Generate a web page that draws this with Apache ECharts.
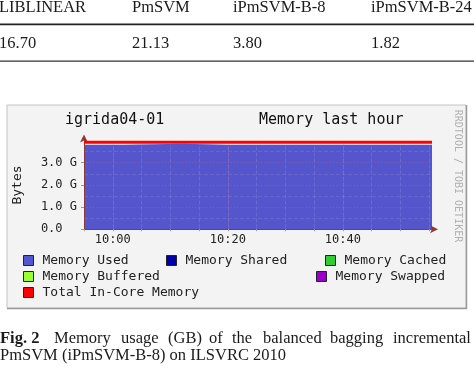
<!DOCTYPE html>
<html>
<head>
<meta charset="utf-8">
<script src="https://cdn.jsdelivr.net/npm/echarts@6/dist/echarts.min.js"></script>
<style>
html,body{margin:0;padding:0;background:#fff;}
#c{width:474px;height:369px;}
</style>
</head>
<body>
<div id="c"></div>
<script>
// ---- table above the figure ----
const tableHeaders = ['LIBLINEAR', 'PmSVM', 'iPmSVM-B-8', 'iPmSVM-B-24'];
const tableValues = ['16.70', '21.13', '3.80', '1.82'];

// ---- RRD chart data (minutes since midnight; values in GB) ----
const times     = [595, 602, 602.3, 612, 612.3, 620, 630, 640, 650, 655.5];
const memUsed   = [3.81, 3.81, 3.85, 3.85, 3.81, 3.81, 3.81, 3.81, 3.81, 3.81];
const memShared = [0, 0, 0, 0, 0, 0, 0, 0, 0, 0];
const memCached = [0.03, 0.03, 0, 0, 0.05, 0.05, 0.05, 0.05, 0.05, 0.05];
const memBuffered=[0, 0, 0, 0, 0, 0, 0, 0, 0, 0];
const memSwapped= [0, 0, 0, 0, 0, 0, 0, 0, 0, 0];
const memTotal  = [3.92, 3.92, 3.92, 3.92, 3.92, 3.92, 3.92, 3.92, 3.92, 3.92];
const yTicks = [0, 1, 2, 3];
const majorTimes = [600, 620, 640];

const hostTitle = 'igrida04-01';
const graphTitle = 'Memory last hour';
const yName = 'Bytes';
const sideText = 'RRDTOOL / TOBI OETIKER';
const captionBold = 'Fig. 2';
const captionLine1 = ['Memory', 'usage', '(GB)', 'of', 'the', 'balanced', 'bagging', 'incremental'];
const captionLine2 = 'PmSVM (iPmSVM-B-8) on ILSVRC 2010';

const names = ['Memory Used', 'Memory Shared', 'Memory Cached', 'Memory Buffered', 'Memory Swapped', 'Total In-Core Memory'];
const colors = ['#5555cc', '#0000aa', '#33cc33', '#99ff33', '#9900cc', '#ff0000'];
const stackVals = [memUsed, memShared, memCached, memBuffered, memSwapped];

const mono = 'DejaVu Sans Mono';
const serif = 'Liberation Serif';

const chart = echarts.init(document.getElementById('c'), null, {renderer: 'canvas'});

function pairs(arr) { return times.map((t, i) => [t, arr[i]]); }

const series = stackVals.map((arr, i) => ({
  name: names[i], type: 'line', stack: 'mem',
  data: pairs(arr), symbol: 'none', z: -1,
  color: colors[i],
  lineStyle: {width: 0, color: colors[i]},
  areaStyle: {color: colors[i], opacity: 1},
  itemStyle: {color: colors[i]}
}));
series.push({
  name: names[5], type: 'line', data: pairs(memTotal), symbol: 'none', z: 5,
  color: colors[5], clip: false,
  lineStyle: {width: 3, color: colors[5]}, itemStyle: {color: colors[5]}
});
// major time grid lines (rrdtool style)
series.push({
  type: 'line', data: [], z: 1, silent: true,
  markLine: {
    silent: true, symbol: ['none', 'none'], label: {show: false},
    lineStyle: {color: 'rgba(255,110,110,0.35)', type: [1, 2], width: 1},
    data: majorTimes.map(t => ({xAxis: t}))
  }
});

// legend positions (one legend per item)
const legendPos = [[23, 254], [166, 254], [325, 254], [23, 270], [316, 270], [23, 286]];
const legends = names.map((n, i) => ({
  data: [n], left: legendPos[i][0], top: legendPos[i][1], padding: 0,
  icon: 'rect', itemWidth: 10, itemHeight: 10, itemGap: 0, selectedMode: false,
  itemStyle: {borderColor: '#222', borderWidth: 1, color: colors[i]},
  textStyle: {fontFamily: mono, fontSize: 13, color: '#222', padding: [0, 0, 0, 4]}
}));

const tableX = [-1, 132, 233, 371];
const serifFont = '16.5px "' + serif + '"';
const graphics = [];
// figure box
graphics.push({type: 'rect', z: -100, shape: {x: 7, y: 105, width: 459, height: 203},
  style: {fill: '#f3f3f3', stroke: '#c4c4c4', lineWidth: 1}});
graphics.push({type: 'polyline', z: -99, shape: {points: [[466.5, 105], [466.5, 308.5], [7, 308.5]]},
  style: {stroke: '#9a9a9a', lineWidth: 1.5, fill: null}});
// table (y = baseline - 5.6, vertically middle-aligned)
tableHeaders.forEach((h, i) => graphics.push({type: 'text', x: tableX[i], y: 7.4,
  style: {text: h, font: serifFont, fill: '#1a1a1a', verticalAlign: 'middle'}}));
tableValues.forEach((h, i) => graphics.push({type: 'text', x: tableX[i], y: 43.4,
  style: {text: h, font: serifFont, fill: '#1a1a1a', verticalAlign: 'middle'}}));
graphics.push({type: 'rect', shape: {x: 0, y: 23.5, width: 474, height: 1.8}, style: {fill: '#222'}});
graphics.push({type: 'rect', shape: {x: 0, y: 60.4, width: 474, height: 1.3}, style: {fill: '#333'}});
// titles
graphics.push({type: 'text', x: 65, y: 120, style: {text: hostTitle, font: '15px "' + mono + '"', fill: '#111', verticalAlign: 'middle'}});
graphics.push({type: 'text', x: 259, y: 120, style: {text: graphTitle, font: '15px "' + mono + '"', fill: '#111', verticalAlign: 'middle'}});
graphics.push({type: 'text', x: 18, y: 185, rotation: Math.PI / 2,
  style: {text: yName, font: '13px "' + mono + '"', fill: '#222', align: 'center', verticalAlign: 'middle'}});
graphics.push({type: 'text', x: 458, y: 176, rotation: -Math.PI / 2,
  style: {text: sideText, font: '10px "' + mono + '"', fill: '#b0b0b0', align: 'center', verticalAlign: 'middle'}});
// caption
const capX = [54, 121, 168, 209, 232, 263, 330, 393];
graphics.push({type: 'text', x: 0, y: 338.4, style: {text: captionBold, font: 'bold ' + serifFont, fill: '#1a1a1a', verticalAlign: 'middle'}});
captionLine1.forEach((w, i) => graphics.push({type: 'text', x: capX[i], y: 338.4,
  style: {text: w, font: serifFont, fill: '#1a1a1a', verticalAlign: 'middle'}}));
graphics.push({type: 'text', x: 0, y: 355.9, style: {text: captionLine2, font: serifFont, fill: '#1a1a1a', verticalAlign: 'middle'}});

chart.setOption({
  backgroundColor: '#ffffff',
  animation: false,
  grid: {left: 84, right: 42, top: 140.5, bottom: 139.7, containLabel: false},
  legend: legends,
  xAxis: {
    type: 'value', min: 595, max: 655.5, interval: 5,
    axisLine: {show: true, onZero: false, lineStyle: {color: '#8a3a3a', width: 1}, symbol: ['none', 'arrow'], symbolSize: [6, 8], symbolOffset: [0, 6]},
    axisTick: {show: true, length: 2, lineStyle: {color: '#aaa'}},
    axisLabel: {
      fontFamily: mono, fontSize: 12, color: '#222', margin: 5, showMaxLabel: false,
      formatter: v => (majorTimes.indexOf(v) >= 0) ? (Math.floor(v / 60) + ':' + String(v % 60).padStart(2, '0')) : ''
    },
    splitLine: {show: true, showMinLine: false, showMaxLine: false, lineStyle: {color: 'rgba(255,255,255,0.12)', type: 'dashed', width: 1}}
  },
  yAxis: {
    type: 'value', min: 0, max: 4.0, interval: 1,
    axisLine: {show: true, lineStyle: {color: '#8a3a3a', width: 1}, symbol: ['none', 'arrow'], symbolSize: [6, 8], symbolOffset: [0, 6]},
    axisTick: {show: true, length: 3, lineStyle: {color: '#999'}},
    axisLabel: {
      fontFamily: mono, fontSize: 12, color: '#222', margin: 7, showMaxLabel: false,
      formatter: v => yTicks.indexOf(v) < 0 ? '' : (v === 0 ? '0.0  ' : v.toFixed(1) + ' G')
    },
    splitLine: {show: true, showMinLine: false, showMaxLine: false, lineStyle: {color: 'rgba(255,100,100,0.3)', type: [1, 2]}},
    minorTick: {show: false, splitNumber: 2},
    minorSplitLine: {show: true, lineStyle: {color: 'rgba(255,255,255,0.1)', type: 'dashed'}}
  },
  graphic: graphics,
  series: series
});
</script>
</body>
</html>
